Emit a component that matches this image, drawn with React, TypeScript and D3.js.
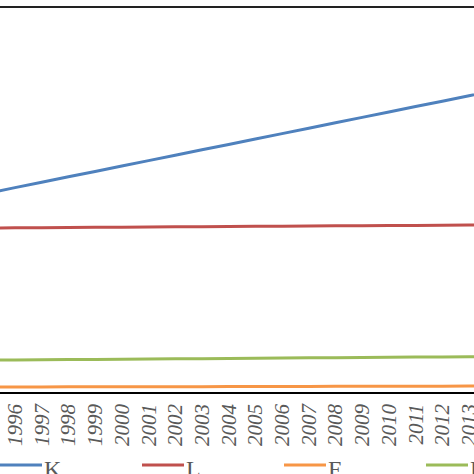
import React, { useEffect, useRef } from "react";
import * as d3 from "d3";

const years = [
    1995, 1996, 1997, 1998, 1999, 2000, 2001, 2002, 2003, 2004, 2005, 2006,
    2007, 2008, 2009, 2010, 2011, 2012, 2013, 2014,
];
const seriesK = [
    207.2, 212.8, 218.4, 224.0, 229.6, 235.2, 240.8, 246.4, 252.0, 257.6,
    263.2, 268.8, 274.4, 280.0, 285.6, 291.2, 296.8, 302.4, 308.0, 313.6,
];
const seriesL = [
    171.0, 171.2, 171.3, 171.5, 171.7, 171.8, 172.0, 172.2, 172.3, 172.5,
    172.7, 172.8, 173.0, 173.2, 173.3, 173.5, 173.7, 173.8, 174.0, 174.2,
];
const seriesF = [
    6.2, 6.3, 6.3, 6.4, 6.4, 6.5, 6.5, 6.6, 6.6, 6.7, 6.7, 6.8, 6.8, 6.9, 6.9,
    7.0, 7.0, 7.1, 7.2, 7.3,
];
const seriesE = [
    34.0, 34.2, 34.4, 34.6, 34.8, 35.0, 35.2, 35.4, 35.6, 35.8, 36.0, 36.2,
    36.4, 36.6, 36.8, 37.0, 37.2, 37.4, 37.6, 37.8,
];
const tickYears = [
    1996, 1997, 1998, 1999, 2000, 2001, 2002, 2003, 2004, 2005, 2006, 2007,
    2008, 2009, 2010, 2011, 2012, 2013,
];
const seriesNames = ["K", "L", "F", "E"];
const seriesColors = ["#4f81bd", "#c0504d", "#f79646", "#9bbb59"];

const App: React.FC = () => {
    const svgRef = useRef<SVGSVGElement>(null);
    const width = 474;
    const height = 474;

    useEffect(() => {
        if (!svgRef.current) return;
        const svg = d3.select(svgRef.current);
        svg.selectAll("*").remove();

        const x = d3.scaleLinear().domain([1996, 2013]).range([15, 469]);
        const y = d3.scaleLinear().domain([0, 400]).range([393, 7]);

        // top border of plot area
        svg.append("line")
            .attr("x1", 0)
            .attr("x2", width)
            .attr("y1", 7)
            .attr("y2", 7)
            .attr("stroke", "#222")
            .attr("stroke-width", 2);

        const all = [seriesK, seriesL, seriesF, seriesE];
        const line = d3
            .line<number>()
            .x((_, i) => x(years[i]))
            .y((d) => y(d));

        all.forEach((s, k) => {
            svg.append("path")
                .datum(s)
                .attr("d", line)
                .attr("fill", "none")
                .attr("stroke", seriesColors[k])
                .attr("stroke-width", 3);
        });

        // x axis
        svg.append("line")
            .attr("x1", 0)
            .attr("x2", width)
            .attr("y1", 393)
            .attr("y2", 393)
            .attr("stroke", "#000")
            .attr("stroke-width", 2);

        svg.append("g")
            .selectAll("text")
            .data(tickYears)
            .enter()
            .append("text")
            .attr(
                "transform",
                (d) => `translate(${x(d) + 7},404) rotate(-90)`
            )
            .attr("text-anchor", "end")
            .attr("font-family", "Liberation Serif, Times New Roman, serif")
            .attr("font-size", 21)
            .attr("font-style", "italic")
            .attr("fill", "#595959")
            .text((d) => String(d));

        // legend
        const leg = svg
            .append("g")
            .selectAll("g")
            .data(seriesNames)
            .enter()
            .append("g")
            .attr("transform", (_, i) => `translate(${i * 142},465)`);
        leg.append("line")
            .attr("x1", 0)
            .attr("x2", 42)
            .attr("stroke", (_, i) => seriesColors[i])
            .attr("stroke-width", 3);
        leg.append("text")
            .attr("x", 44)
            .attr("y", 12)
            .attr("font-family", "Liberation Serif, Times New Roman, serif")
            .attr("font-size", 24)
            .attr("fill", "#595959")
            .text((d) => d);
    }, []);

    return (
        <svg
            ref={svgRef}
            width={width}
            height={height}
            style={{ position: "fixed", left: 0, top: 0, background: "#fff" }}
        />
    );
};

export default App;
